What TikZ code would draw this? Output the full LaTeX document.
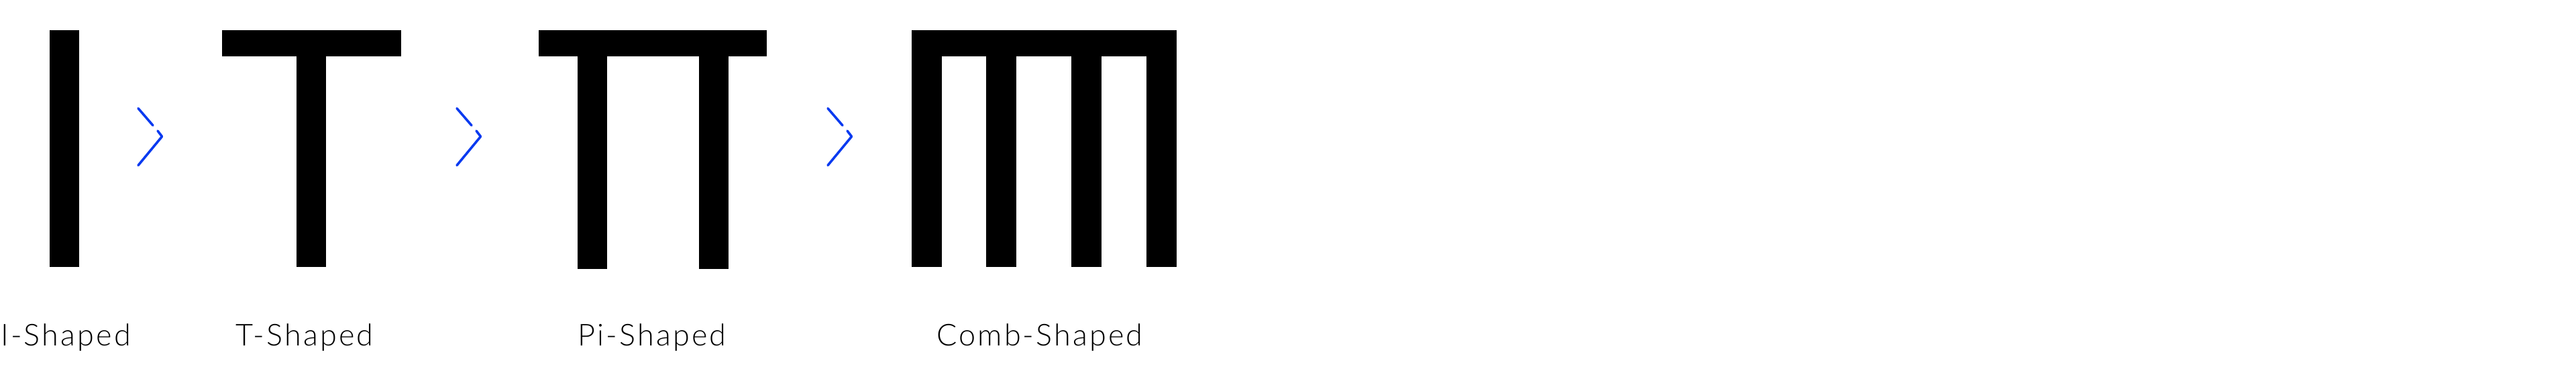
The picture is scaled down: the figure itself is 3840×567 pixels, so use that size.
\documentclass[tikz,border=0pt]{standalone}
\usepackage{fontspec}
\setmainfont{Lato}[UprightFont={* Light}, LetterSpace=7]
\definecolor{chevblue}{RGB}{10,58,240}
\tikzset{
	bar/.style={fill=black},
	chev/.style={chevblue, line width=0.36mm, line cap=round, line join=round},
	lbl/.style={anchor=base, inner sep=0pt, font=\fontsize{12.8}{15}\selectfont}
}
\newcommand{\chevron}[1]{% chevron with a small break near its tip
	\draw[chev] (#1,161.5)--(#1+22,187);
	\draw[chev] (#1+29,195)--(#1+35.5,203.5)--(#1,246.5);
}
\begin{document}
\begin{tikzpicture}[x=0.1mm, y=-0.1mm]
	\def\top{44.5} \def\bot{398} \def\rail{83.5}
	\useasboundingbox (0,0) rectangle (3840,567);
	% I
	\fill[bar] (74,\top) rectangle (117.5,\bot);
	% T
	\fill[bar] (330.5,\top) rectangle (597.5,\rail);
	\fill[bar] (442,\rail) rectangle (486,\bot);
	% Pi
	\fill[bar] (803,\top) rectangle (1143,\rail);
	\foreach \a in {860.5,1041.5}
		\fill[bar] (\a,\rail) rectangle (\a+44,400.7);
	% Comb
	\fill[bar] (1358.5,\top) rectangle (1753.5,\rail);
	\foreach \a/\b in {1358.5/1404,1470.3/1514.5,1597.3/1642,1708.7/1753.5}
		\fill[bar] (\a,\rail) rectangle (\b,\bot);
	% chevrons
	\chevron{206} \chevron{681} \chevron{1234}
	% labels
	\node[lbl] (lblI) at (98,515) {I-Shaped};
	\node[lbl] (lblT) at (454,515) {T-Shaped};
	\node[lbl] (lblPi) at (972,515) {Pi-Shaped};
	\node[lbl] (lblComb) at (1550,515) {Comb-Shaped};
\end{tikzpicture}
\end{document}
